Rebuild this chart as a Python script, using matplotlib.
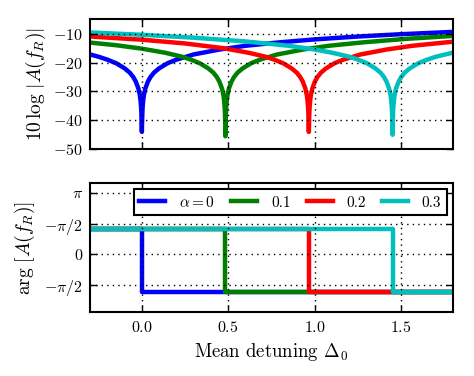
import numpy as np
import matplotlib
matplotlib.use("Agg")
import matplotlib.pyplot as plt
from matplotlib.ticker import FormatStrFormatter

# =========================
# Data
# =========================
labels = [r"$\alpha = 0$", "0.1", "0.2", "0.3"]
colors = ["b", "g", "r", "c"]

# amplitude 10 log|A(f_R)| vs mean detuning (dense near each dip)
amp_x_a0 = [-0.30, -0.25, -0.20, -0.15, -0.10, -0.07, -0.05, -0.035, -0.02, -0.012, -0.008,
            -0.005, -0.003, -0.0015, 0.0, 0.0015, 0.003, 0.005, 0.008, 0.012, 0.02, 0.035,
            0.05, 0.07, 0.10, 0.15, 0.20, 0.30, 0.45, 0.60, 0.80, 1.00, 1.25, 1.50, 1.80]
amp_y_a0 = [-17.2, -18.0, -19.0, -20.2, -22.0, -23.5, -25.0, -26.6, -29.0, -31.2, -33.0,
            -35.0, -37.2, -40.2, -44.0, -40.2, -37.2, -35.0, -33.0, -31.2, -29.0, -26.6,
            -25.0, -23.5, -22.0, -20.2, -19.0, -17.2, -15.5, -14.2, -13.0, -12.0, -11.0, -10.2, -9.4]

amp_x_a1 = [-0.30, -0.15, 0.00, 0.134, 0.234, 0.284, 0.334, 0.384, 0.414, 0.434, 0.449,
            0.464, 0.472, 0.476, 0.479, 0.481, 0.4825, 0.484, 0.4855, 0.487, 0.489, 0.492,
            0.496, 0.504, 0.519, 0.534, 0.554, 0.584, 0.634, 0.684, 0.784, 0.934, 1.084,
            1.284, 1.534, 1.80]
amp_y_a1 = [-13.1, -14.0, -15.2, -16.6, -18.0, -19.0, -20.2, -22.0, -23.5, -25.0, -26.6,
            -29.0, -31.2, -33.0, -35.0, -37.2, -40.2, -45.5, -40.2, -37.2, -35.0, -33.0,
            -31.2, -29.0, -26.6, -25.0, -23.5, -22.0, -20.2, -19.0, -17.2, -15.5, -14.2,
            -13.0, -11.8, -10.8]

amp_x_a2 = [-0.30, 0.00, 0.25, 0.467, 0.617, 0.717, 0.767, 0.817, 0.867, 0.897, 0.917,
            0.932, 0.947, 0.955, 0.959, 0.962, 0.964, 0.9655, 0.967, 0.9685, 0.970, 0.972,
            0.975, 0.979, 0.987, 1.002, 1.017, 1.037, 1.067, 1.117, 1.167, 1.267, 1.417,
            1.567, 1.80]
amp_y_a2 = [-11.0, -12.1, -13.4, -15.0, -16.6, -18.0, -19.0, -20.2, -22.0, -23.5, -25.0,
            -26.6, -29.0, -31.2, -33.0, -35.0, -37.2, -40.2, -44.0, -40.2, -37.2, -35.0,
            -33.0, -31.2, -29.0, -26.6, -25.0, -23.5, -22.0, -20.2, -19.0, -17.2, -15.5,
            -14.2, -12.8]

amp_x_a3 = [-0.30, 0.00, 0.30, 0.60, 0.85, 1.002, 1.102, 1.202, 1.252, 1.302, 1.352,
            1.382, 1.402, 1.417, 1.432, 1.440, 1.444, 1.447, 1.449, 1.4505, 1.452, 1.4535,
            1.455, 1.457, 1.460, 1.464, 1.472, 1.487, 1.502, 1.522, 1.552, 1.602, 1.652,
            1.702, 1.80]
amp_y_a3 = [-9.6, -10.4, -11.4, -12.7, -14.2, -15.5, -16.6, -18.0, -19.0, -20.2, -22.0,
            -23.5, -25.0, -26.6, -29.0, -31.2, -33.0, -35.0, -37.2, -40.2, -45.0, -40.2,
            -37.2, -35.0, -33.0, -31.2, -29.0, -26.6, -25.0, -23.5, -22.0, -20.2, -19.0,
            -18.0, -16.6]

# phase arg[A(f_R)] : step from upper to lower level at each dip
phase_x_a0 = [-0.30, 0.000, 0.000, 1.80]
phase_x_a1 = [-0.30, 0.484, 0.484, 1.80]
phase_x_a2 = [-0.30, 0.967, 0.967, 1.80]
phase_x_a3 = [-0.30, 1.452, 1.452, 1.80]
phase_y = [1.27, 1.27, -1.88, -1.88]

amp_x = [amp_x_a0, amp_x_a1, amp_x_a2, amp_x_a3]
amp_y = [amp_y_a0, amp_y_a1, amp_y_a2, amp_y_a3]
phase_x = [phase_x_a0, phase_x_a1, phase_x_a2, phase_x_a3]

amp_ticks = [-50, -40, -30, -20, -10]
phase_ticks = [np.pi, np.pi / 2, 0, -np.pi / 2]
phase_ticklabels = [r"$\pi$", r"$-\pi/2$", r"$0$", r"$-\pi/2$"]
x_ticks = [0.0, 0.5, 1.0, 1.5]

# =========================
# Style
# =========================
plt.rcParams["mathtext.fontset"] = "cm"
plt.rcParams["font.family"] = "serif"
plt.rcParams["font.serif"] = ["cmr10"]
plt.rcParams["axes.formatter.use_mathtext"] = True
plt.rcParams["axes.unicode_minus"] = False
plt.rcParams["xtick.direction"] = "in"
plt.rcParams["ytick.direction"] = "in"
plt.rcParams["xtick.top"] = True
plt.rcParams["ytick.right"] = True
plt.rcParams["xtick.major.size"] = 5
plt.rcParams["ytick.major.size"] = 5
plt.rcParams["xtick.major.pad"] = 6
plt.rcParams["ytick.major.pad"] = 5
plt.rcParams["axes.linewidth"] = 1.5

fig = plt.figure(figsize=(4.74, 3.76), dpi=100)
ax1 = fig.add_axes([0.190, 0.603, 0.765, 0.346])
ax2 = fig.add_axes([0.190, 0.170, 0.765, 0.343])

for xs, ys, c in zip(amp_x, amp_y, colors):
    ax1.plot(xs, ys, color=c, lw=3.2, solid_capstyle="round", solid_joinstyle="round")

for xs, c, lab in zip(phase_x, colors, labels):
    ax2.plot(xs, phase_y, color=c, lw=3.2, label=lab)

for ax in (ax1, ax2):
    ax.set_xlim(-0.3, 1.8)
    ax.set_xticks(x_ticks)
    ax.set_axisbelow(False)   # classic look: dotted grid over the curves
    ax.grid(True, color="k", linestyle=(0, (1, 3)), linewidth=1)
    ax.tick_params(labelsize=11.5, width=1)

ax1.set_ylim(-50, -5)
ax1.set_yticks(amp_ticks)
ax1.tick_params(labelbottom=False)
ax1.set_ylabel(r"$10\,\log\,|A(f_R)|$", fontsize=14)

ax2.set_ylim(-2.92, 3.62)
ax2.set_yticks(phase_ticks)
ax2.set_yticklabels(phase_ticklabels)
ax2.xaxis.set_major_formatter(FormatStrFormatter("$%.1f$"))
ax2.set_ylabel(r"$\arg\,[A(f_R)]$", fontsize=14)
ax2.set_xlabel(r"Mean detuning $\Delta_0$", fontsize=13.5)

leg = ax2.legend(loc="upper right", ncol=4, fontsize=11, fancybox=False,
                 edgecolor="k", framealpha=1, borderaxespad=0.4,
                 handlelength=1.7, columnspacing=1.05, handletextpad=0.9,
                 borderpad=0.35)
leg.get_frame().set_linewidth(1.5)
leg.set_zorder(5)

ax1.yaxis.set_label_coords(-0.115, 0.5)
ax2.yaxis.set_label_coords(-0.146, 0.5)

fig.savefig("out.png", dpi=100)
